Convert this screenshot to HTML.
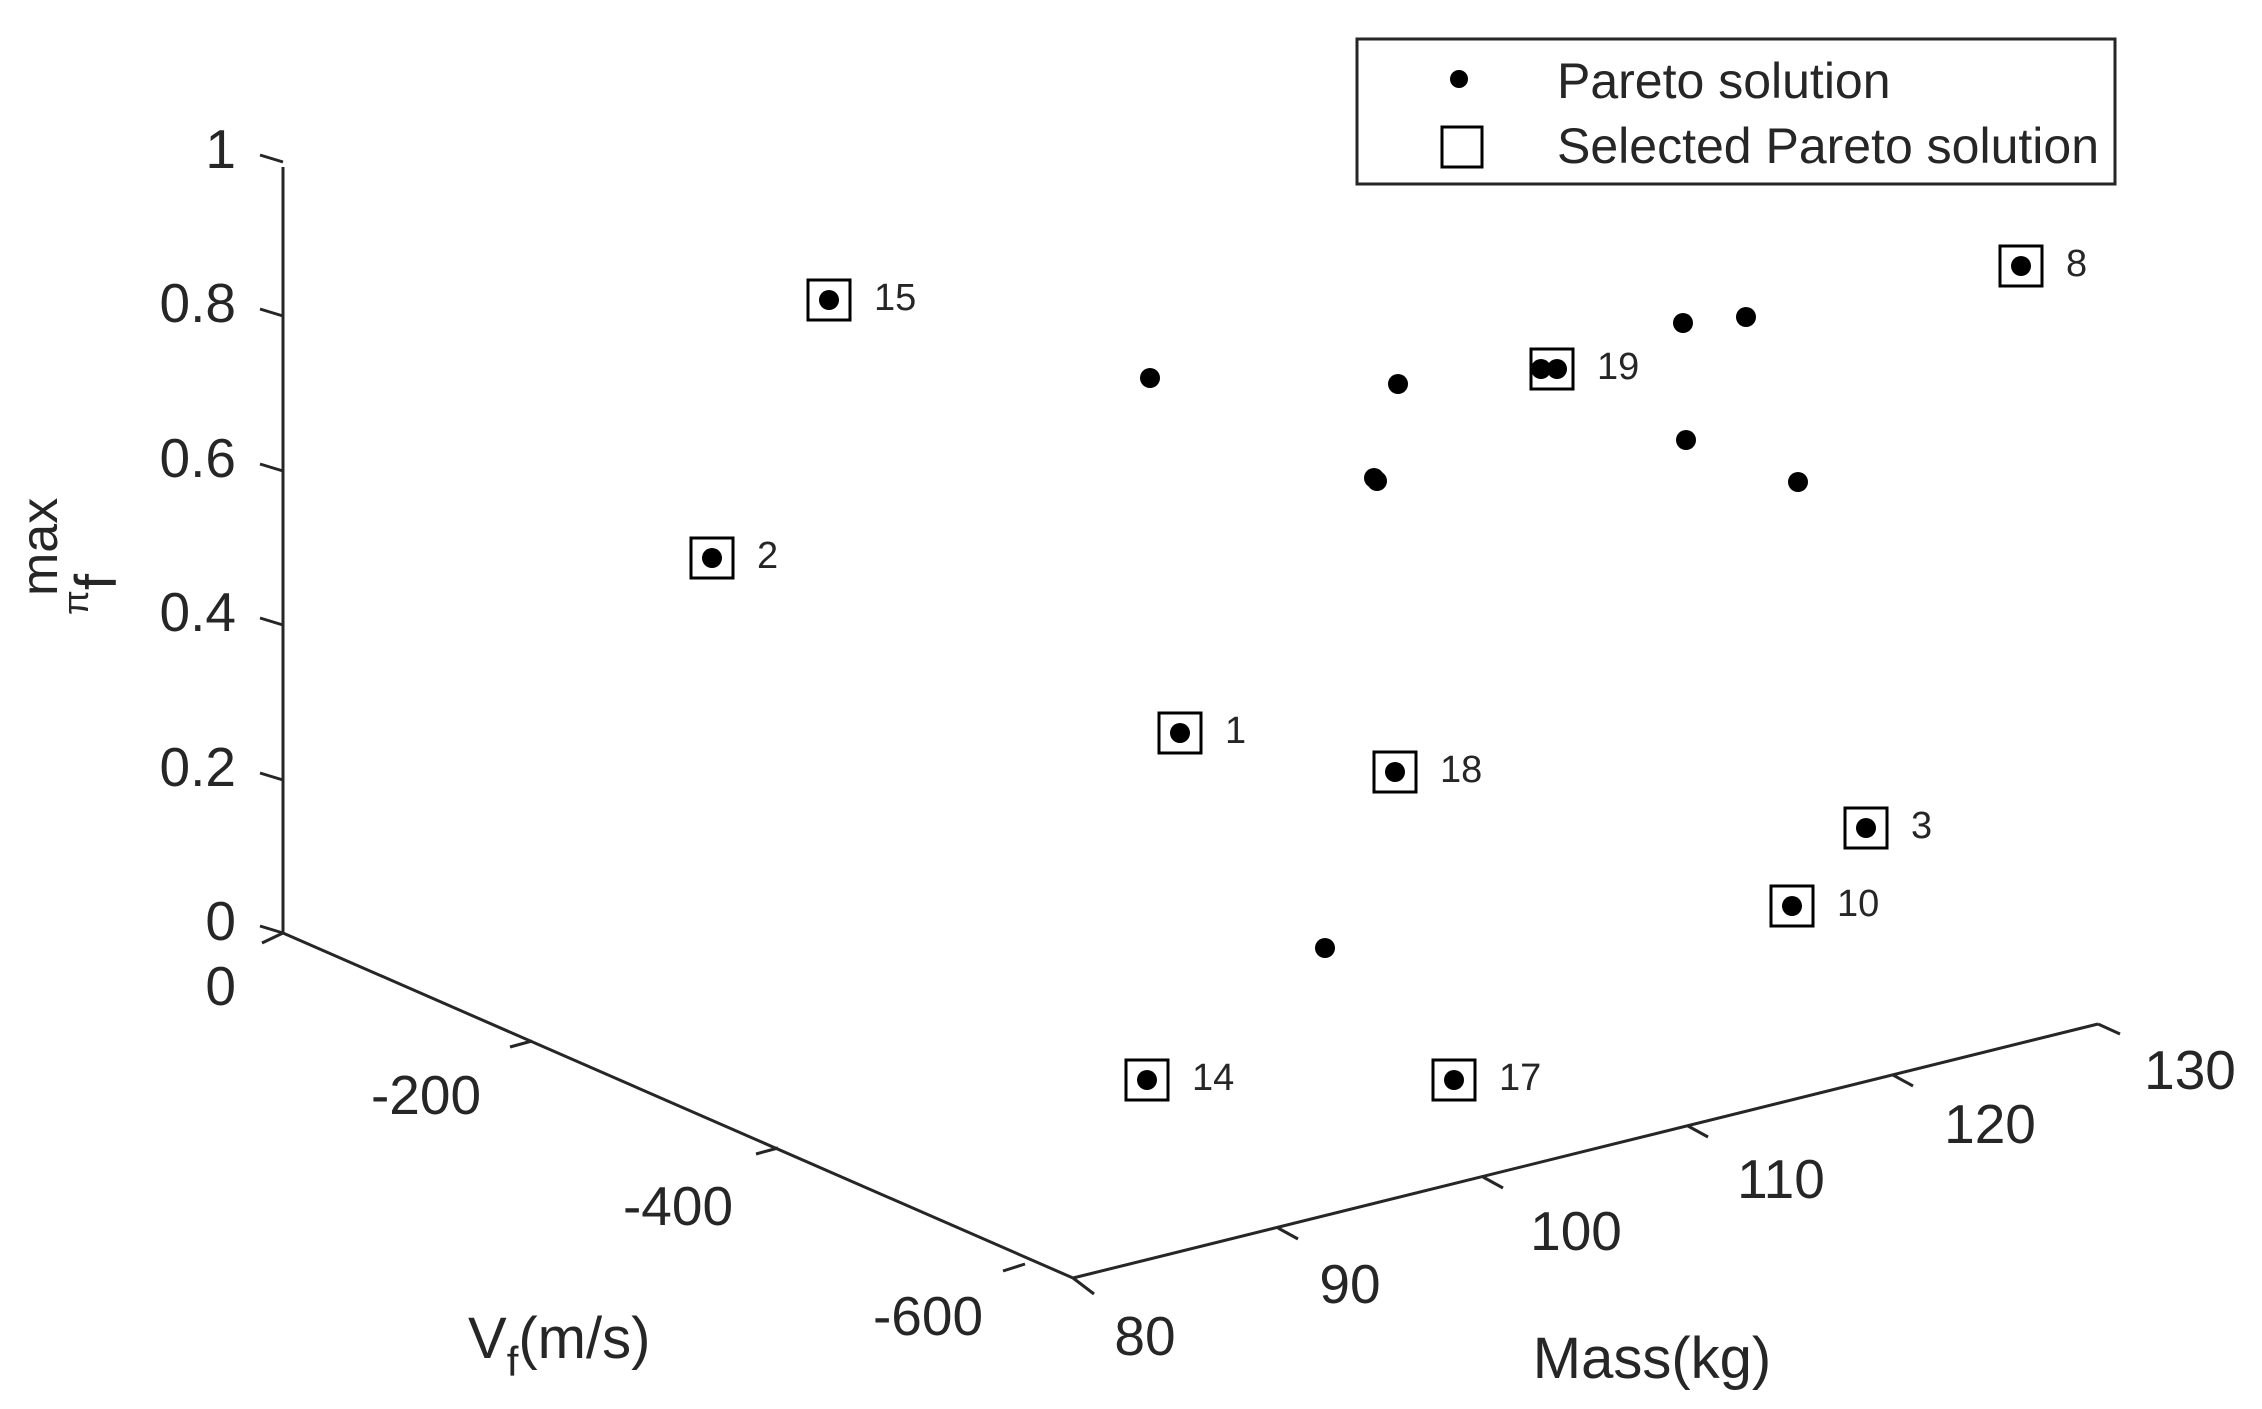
<!DOCTYPE html>
<html><head><meta charset="utf-8"><style>html,body{margin:0;padding:0;background:#fff}svg{display:block}</style></head>
<body>
<svg width="2262" height="1409" viewBox="0 0 2262 1409" xmlns="http://www.w3.org/2000/svg" font-family="Liberation Sans, sans-serif">
<rect width="2262" height="1409" fill="#fff"/>
<g stroke="#262626" stroke-width="3" fill="none">
<line x1="283" y1="167" x2="283" y2="933"/>
<line x1="283" y1="933" x2="1073" y2="1278"/>
<line x1="1073" y1="1278" x2="2098" y2="1024"/>
<line x1="260" y1="155" x2="283" y2="162"/>
<line x1="260" y1="309" x2="283" y2="316"/>
<line x1="260" y1="464" x2="283" y2="471"/>
<line x1="260" y1="618" x2="283" y2="625"/>
<line x1="260" y1="773" x2="283" y2="780"/>
<line x1="260" y1="926" x2="283" y2="933"/>
<line x1="262" y1="943" x2="283" y2="933"/>
<line x1="510" y1="1047" x2="532" y2="1041"/>
<line x1="756" y1="1154" x2="778" y2="1148"/>
<line x1="1003" y1="1271" x2="1025" y2="1264"/>
<line x1="1073" y1="1278" x2="1094" y2="1294"/>
<line x1="1278" y1="1228" x2="1298" y2="1239"/>
<line x1="1483" y1="1177" x2="1503" y2="1188"/>
<line x1="1688" y1="1126" x2="1708" y2="1137"/>
<line x1="1893" y1="1075" x2="1913" y2="1086"/>
<line x1="2098" y1="1024" x2="2120" y2="1034"/>
</g>
<g font-size="55" fill="#262626">
<g text-anchor="end">
<text x="236" y="168">1</text>
<text x="236" y="322">0.8</text>
<text x="236" y="477">0.6</text>
<text x="236" y="631">0.4</text>
<text x="236" y="786">0.2</text>
<text x="236" y="940">0</text>
<text x="236" y="1005">0</text>
</g>
<g text-anchor="middle">
<text x="426" y="1114">-200</text>
<text x="678" y="1225">-400</text>
<text x="928" y="1335">-600</text>
<text x="1145" y="1355">80</text>
<text x="1350" y="1303">90</text>
<text x="1576" y="1250">100</text>
<text x="1781" y="1198">110</text>
<text x="1990" y="1143">120</text>
<text x="2190" y="1089">130</text>
<text x="1652" y="1378" font-size="58">Mass(kg)</text>
</g>
<text x="468" y="1358" font-size="58">V<tspan font-size="42" dy="18">f</tspan><tspan dy="-18">(m/s)</tspan></text>
<g transform="translate(88,615) rotate(-90)">
<text x="0" y="0" font-size="36">π<tspan font-size="58" dy="28">f</tspan><tspan font-size="52" dy="-59" dx="-22">max</tspan></text>
</g>
</g>
<rect x="1357" y="39" width="758" height="145" fill="#fff" stroke="#262626" stroke-width="3"/>
<circle cx="1459" cy="79" r="9" fill="#000"/>
<rect x="1442" y="127" width="40" height="40" fill="none" stroke="#000" stroke-width="3"/>
<text x="1557" y="98" font-size="50" fill="#262626">Pareto solution</text>
<text x="1557" y="163" font-size="50" fill="#262626">Selected Pareto solution</text>
<g fill="#000">
<circle cx="1150" cy="378" r="10"/>
<circle cx="1398" cy="384" r="10"/>
<circle cx="1374" cy="478" r="10"/>
<circle cx="1377" cy="481" r="10"/>
<circle cx="1683" cy="323" r="10"/>
<circle cx="1746" cy="317" r="10"/>
<circle cx="1686" cy="440" r="10"/>
<circle cx="1798" cy="482" r="10"/>
<circle cx="1325" cy="948" r="10"/>
<circle cx="1541" cy="369" r="10"/>
<circle cx="1557" cy="369" r="10"/>
<circle cx="829" cy="300" r="10"/>
<circle cx="712" cy="558" r="10"/>
<circle cx="1180" cy="733" r="10"/>
<circle cx="1395" cy="772" r="10"/>
<circle cx="1866" cy="828" r="10"/>
<circle cx="1792" cy="906" r="10"/>
<circle cx="1147" cy="1080" r="10"/>
<circle cx="1454" cy="1080" r="10"/>
<circle cx="2021" cy="266" r="10"/>
</g>
<g fill="none" stroke="#000" stroke-width="3">
<rect x="1531" y="349" width="42" height="40"/>
<rect x="808" y="280" width="42" height="40"/>
<rect x="691" y="538" width="42" height="40"/>
<rect x="1159" y="713" width="42" height="40"/>
<rect x="1374" y="752" width="42" height="40"/>
<rect x="1845" y="808" width="42" height="40"/>
<rect x="1771" y="886" width="42" height="40"/>
<rect x="1126" y="1060" width="42" height="40"/>
<rect x="1433" y="1060" width="42" height="40"/>
<rect x="2000" y="246" width="42" height="40"/>
</g>
<g font-size="38" fill="#262626">
<text x="1597" y="379">19</text>
<text x="874" y="310">15</text>
<text x="757" y="568">2</text>
<text x="1225" y="743">1</text>
<text x="1440" y="782">18</text>
<text x="1911" y="838">3</text>
<text x="1837" y="916">10</text>
<text x="1192" y="1090">14</text>
<text x="1499" y="1090">17</text>
<text x="2066" y="276">8</text>
</g>
</svg>
</body></html>
